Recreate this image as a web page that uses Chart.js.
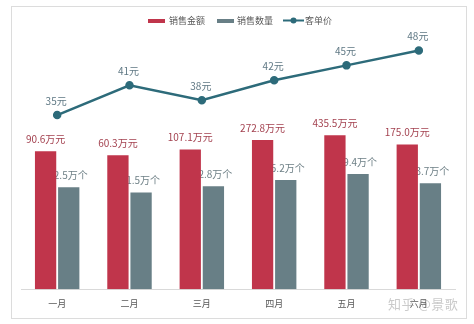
<!DOCTYPE html>
<html>
<head>
<meta charset="utf-8">
<script src="https://cdn.jsdelivr.net/npm/chart.js@4"></script>
<style>
  html, body { margin: 0; padding: 0; background: #fff; }
  #wrap { position: relative; width: 474px; height: 324px; }
  #frame {
    position: absolute; left: 11px; top: 6px; width: 454px; height: 311px;
    border: 1px solid #dcdcdc; pointer-events: none;
  }
  .lg { position: absolute; top: 14px; font: 9px "Noto Sans CJK SC", sans-serif; color: #595959; line-height: 13px; }
  .sw { position: absolute; top: 19px; width: 17px; height: 4px; }
  #mark {
    position: absolute; left: 388px; top: 294px; font: 13px "Noto Sans CJK SC", sans-serif;
    color: rgba(150, 150, 150, 0.5); letter-spacing: 0.5px;
  }
</style>
</head>
<body>
<div id="wrap">
  <canvas id="chart" width="474" height="324"></canvas>
  <div id="frame"></div>
  <div class="sw" style="left:148px;background:#c0354b"></div>
  <div class="lg" style="left:169px">销售金额</div>
  <div class="sw" style="left:217px;background:#687f86"></div>
  <div class="lg" style="left:237px">销售数量</div>
  <svg style="position:absolute;left:283px;top:16px" width="21" height="9">
    <line x1="0" y1="4.5" x2="21" y2="4.5" stroke="#2d6b7a" stroke-width="2"></line>
    <circle cx="10.5" cy="4.5" r="3" fill="#2d6b7a"></circle>
  </svg>
  <div class="lg" style="left:305px">客单价</div>
  <div id="mark">知乎 @景歌</div>
</div>
<script>
// 月份
const months = ["一月", "二月", "三月", "四月", "五月", "六月"];

// 销售金额 (万元)
const salesAmount = [90.6, 60.3, 107.1, 272.8, 435.5, 175.0];
// 销售数量 (万个)
const salesCount = [2.5, 1.5, 2.8, 5.2, 9.4, 3.7];
// 客单价 (元)
const unitPrice = [35, 41, 38, 42, 45, 48];

const FONT = '"Noto Sans CJK SC", sans-serif';

// labels drawn right after each dataset, so later bars can cover them
const valueLabels = {
  id: "valueLabels",
  afterDatasetDraw(chart, args) {
    const ds = chart.data.datasets[args.index];
    const ctx = chart.ctx;
    ctx.save();
    ctx.font = "10px " + FONT;
    ctx.textAlign = "center";
    ctx.textBaseline = "middle";
    ctx.fillStyle = ds.labelColor;
    args.meta.data.forEach((el, i) => {
      const text = ds.data[i].toFixed(ds.digits) + ds.suffix;
      ctx.fillText(text, el.x + ds.labelShift, el.y - ds.labelGap);
    });
    ctx.restore();
  },
};

new Chart(document.getElementById("chart"), {
  type: "bar",
  data: {
    labels: months,
    datasets: [
      {
        label: "销售金额",
        data: salesAmount,
        backgroundColor: "#c0354b",
        yAxisID: "y",
        order: 1,
        categoryPercentage: 0.64,
        barPercentage: 0.92,
        labelColor: "#a3414f",
        suffix: "万元",
        digits: 1,
        labelGap: 12,
        labelShift: 0,
      },
      {
        label: "销售数量",
        data: salesCount,
        backgroundColor: "#687f86",
        yAxisID: "y",
        order: 2,
        categoryPercentage: 0.64,
        barPercentage: 0.92,
        labelColor: "#6d7f85",
        suffix: "万个",
        digits: 1,
        labelGap: 12,
        labelShift: 2,
      },
      {
        label: "客单价",
        data: unitPrice,
        type: "line",
        yAxisID: "y1",
        order: 0,
        borderColor: "#2d6b7a",
        backgroundColor: "#2d6b7a",
        borderWidth: 2.5,
        pointRadius: 3,
        tension: 0,
        labelColor: "#5f7884",
        suffix: "元",
        digits: 0,
        labelGap: 14,
        labelShift: -1,
      },
    ],
  },
  options: {
    responsive: false,
    animation: false,
    layout: { padding: { left: 21, right: 19, top: 40.5, bottom: 6 } },
    plugins: {
      legend: { display: false },
      tooltip: { enabled: false },
    },
    scales: {
      x: {
        grid: { display: false, drawTicks: false },
        border: { display: true, color: "#d9d9d9", width: 1 },
        ticks: {
          padding: 9,
          color: "#595959",
          font: { family: FONT, size: 9 },
        },
      },
      y: {
        type: "logarithmic",
        display: false,
        bounds: "data",
        min: 0.0001,
        max: 5.4e6,
      },
      y1: {
        type: "linear",
        display: false,
        bounds: "data",
        min: 0,
        max: 50,
      },
    },
  },
  plugins: [valueLabels],
});
</script>
</body>
</html>
